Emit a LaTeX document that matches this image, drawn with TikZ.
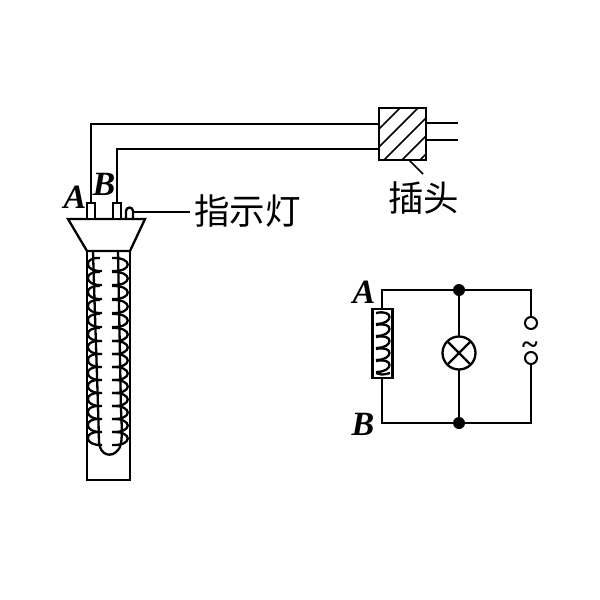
\documentclass[tikz,border=0pt]{standalone}
\usepackage{fontspec}
\setmainfont{Liberation Serif}
\newfontfamily\cjk{Noto Sans CJK SC}
\begin{document}
\begin{tikzpicture}[x=1pt,y=-1pt]
\tikzset{ inner sep=0pt, outer sep=0pt,
  wire/.style={black, line width=2.3pt},
  thin wire/.style={black, line width=1.7pt},
  letter/.style={font=\fontsize{34}{34}\selectfont\bfseries\itshape},
  hanzi/.style={font=\fontsize{35.5}{36}\selectfont\cjk},
  term/.style={circle, draw, line width=2pt, minimum size=12pt},
  dot/.style={circle, fill=black, minimum size=12pt},
}
\useasboundingbox (0,0) rectangle (600,600);

% heater: funnel and tube
\coordinate (FA) at (68,219);
\coordinate (FB) at (145,219);
\coordinate (FC) at (130,251);
\coordinate (FD) at (87,251);
\coordinate (TA) at (87,480);
\coordinate (TB) at (130,480);
\draw [wire, line join=miter] (FA) -- (FB) -- (FC) -- (FD) -- cycle;
\draw [wire] (FD) -- (TA) -- (TB) -- (FC);

% prongs
\draw [thin wire, fill=white] (87,219) rectangle (95,203);
\draw [thin wire, fill=white] (113,219) rectangle (121,203);

% little lamp
\coordinate (LP) at (133,212);
\draw [wire] (126,219) -- (126,211) arc (180:360:3.5) -- (133,219);
\coordinate (LT) at (190,212);
\draw [wire] (LP) -- (LT);

% leads
\coordinate (PA) at (91,203);
\coordinate (PB) at (117,203);
\draw [wire] (PA) |- (379,124);
\draw [wire] (PB) |- (379,149);

% plug
\begin{scope}
\clip (379,108) rectangle (426,160);
\foreach \d in {508,526,544,562,580}
  \draw [thin wire] (\d-100,100) -- (\d-170,170);
\end{scope}
\node [draw, line width=2.5pt, minimum width=47pt, minimum height=52pt] (PL) at (402.5,134) {};
\coordinate (OA) at (458,123);
\coordinate (OB) at (458,140);
\draw [wire] (PL.east |- OA) -- (OA);
\draw [wire] (PL.east |- OB) -- (OB);
\draw [thin wire] (409,160) -- (423,174);

% heating coil in the tube
\draw [wire] (93,251) .. controls (95,320) and (98,400) .. (99,442)
  .. controls (100,456) and (112,458) .. (118,450)
  .. controls (123,445) and (122,430) .. (121,410)
  -- (118,251);
\foreach \y in {258,272,286,300,314,328,341,354,367,380,393,406,419,432}{
  \draw [wire] (100,\y) .. controls (83,\y-1) and (84,\y+14) .. (102,\y+13);
  \draw [wire] (112,\y) .. controls (133,\y-1) and (133,\y+14) .. (112,\y+13);
}

\node [letter] (A) at (75,197) {A};
\node [letter] (B) at (104,184) {B};
\node [hanzi, anchor=west] (LBL) at (194,211) {指示灯};
\node [hanzi, anchor=west] (PLBL) at (388,198) {插头};

% circuit
\coordinate (CA) at (382,290);
\coordinate (CB) at (382,423);
\node [dot] (DA) at (459,290) {};
\node [dot] (DB) at (459,423) {};
\coordinate (CC) at (531,290);
\coordinate (CD) at (531,423);
\node [term] (KA) at (531,323) {};
\node [term] (KB) at (531,358) {};
\node [circle, draw, line width=2.3pt, minimum size=33pt] (LA) at (459,353) {};
\draw [wire] (LA.north west) -- (LA.south east);
\draw [wire] (LA.north east) -- (LA.south west);
\node [draw, line width=2.3pt, minimum width=20pt, minimum height=69pt] (CL) at (382.5,343.5) {};

\draw [wire] (CL.north -| CA) -- (CA) -- (DA) -- (CC) -- (KA);
\draw [wire] (CL.south -| CB) -- (CB) -- (DB) -- (CD) -- (KB);
\draw [wire] (DA) -- (LA);
\draw [wire] (LA) -- (DB);

\foreach \y in {312,324,336,348,360}
  \draw [wire] (376,\y+1) .. controls (394,\y-3) and (394,\y+12) .. (376,\y+12);
\draw [wire] (376,373) .. controls (382,375) .. (390,373);

\node [font=\fontsize{30}{30}\selectfont\bfseries] (TL) at (530,348) {\textasciitilde};

\node [letter] (CAL) at (364,292) {A};
\node [letter] (CBL) at (363,424) {B};
\end{tikzpicture}
\end{document}
